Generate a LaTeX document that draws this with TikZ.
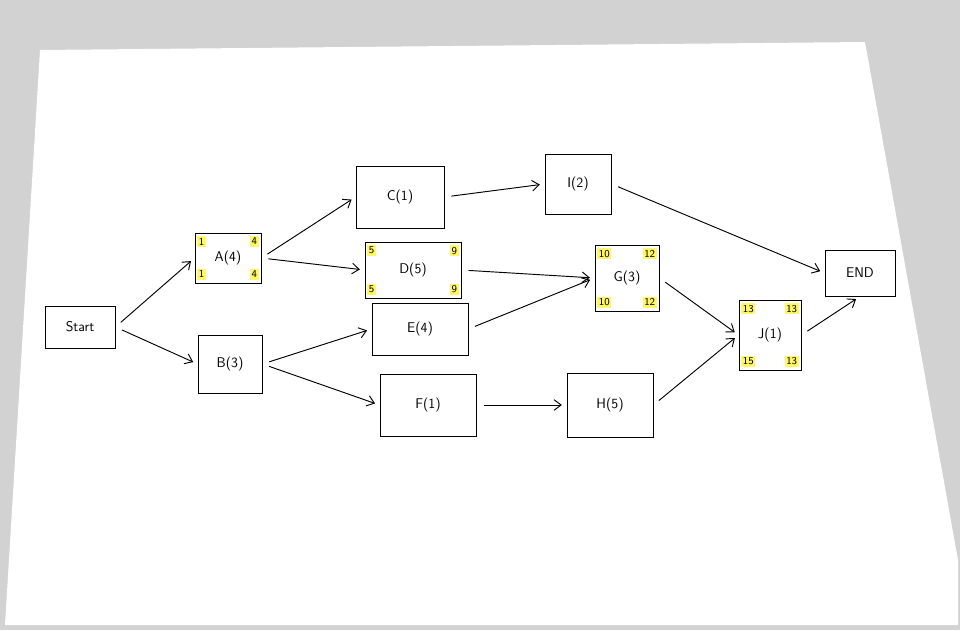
\documentclass[tikz,border=0pt]{standalone}
\usetikzlibrary{arrows.meta}
\begin{document}
\begin{tikzpicture}[x=0.03cm,y=-0.03cm,
  box/.style={draw,thick,inner sep=0pt,font=\sffamily\large},
  hl/.style={fill=yellow!60,inner sep=1.5pt,font=\sffamily\small},
  nw/.style={label={[hl,anchor=north west,xshift=2pt,yshift=-3pt]north west:#1}},
  ne/.style={label={[hl,anchor=north east,xshift=-2pt,yshift=-3pt]north east:#1}},
  sw/.style={label={[hl,anchor=south west,xshift=2pt,yshift=3pt]south west:#1}},
  se/.style={label={[hl,anchor=south east,xshift=-2pt,yshift=3pt]south east:#1}},
  conn/.style={thick,-{Straight Barb[length=6pt,width=9pt]},shorten <=6pt,shorten >=4pt}]
\useasboundingbox (0,0) rectangle (960,630);
\fill[gray!35] (0,0) rectangle (960,630);
\fill[white] (40,50) -- (865,42) -- (958,560) -- (958,625) -- (5,625) -- cycle;
\node[box,minimum width=2.1cm,minimum height=1.26cm] (start) at (80,327) {Start};
\node[box,minimum width=1.98cm,minimum height=1.5cm,nw=1,ne=4,sw=1,se=4] (a) at (228,258) {A(4)};
\node[box,minimum width=1.92cm,minimum height=1.74cm] (b) at (230,364) {B(3)};
\node[box,minimum width=2.64cm,minimum height=1.86cm] (c) at (400,197) {C(1)};
\node[box,minimum width=2.88cm,minimum height=1.68cm,nw=5,ne=9,sw=5,se=9] (d) at (413,270) {D(5)};
\node[box,minimum width=2.88cm,minimum height=1.56cm] (e) at (420,329) {E(4)};
\node[box,minimum width=2.88cm,minimum height=1.86cm] (f) at (428,405) {F(1)};
\node[box,minimum width=1.98cm,minimum height=1.8cm] (i) at (578,184) {I(2)};
\node[box,minimum width=1.92cm,minimum height=1.98cm,nw=10,ne=12,sw=10,se=12] (g) at (627,278) {G(3)};
\node[box,minimum width=2.58cm,minimum height=1.92cm] (h) at (610,405) {H(5)};
\node[box,minimum width=1.86cm,minimum height=2.1cm,nw=13,ne=13,sw=15,se=13] (j) at (770,335) {J(1)};
\node[box,minimum width=2.1cm,minimum height=1.38cm] (end) at (860,273) {END};
\draw[conn] (start.east) -- (a.west);
\draw[conn] (start.east) -- (b.west);
\draw[conn] (a.east) -- (c.west);
\draw[conn] (a.east) -- (d.west);
\draw[conn] (b.east) -- (e.west);
\draw[conn] (b.east) -- (f.west);
\draw[conn] (c.east) -- (i.west);
\draw[conn] (i.east) -- (end.west);
\draw[conn] (d.east) -- (g.west);
\draw[conn] (e.east) -- (g.west);
\draw[conn] (f.east) -- (h.west);
\draw[conn] (g.east) -- (j.west);
\draw[conn] (h.east) -- (j.west);
\draw[conn] (j.east) -- (end.south);
\end{tikzpicture}
\end{document}
